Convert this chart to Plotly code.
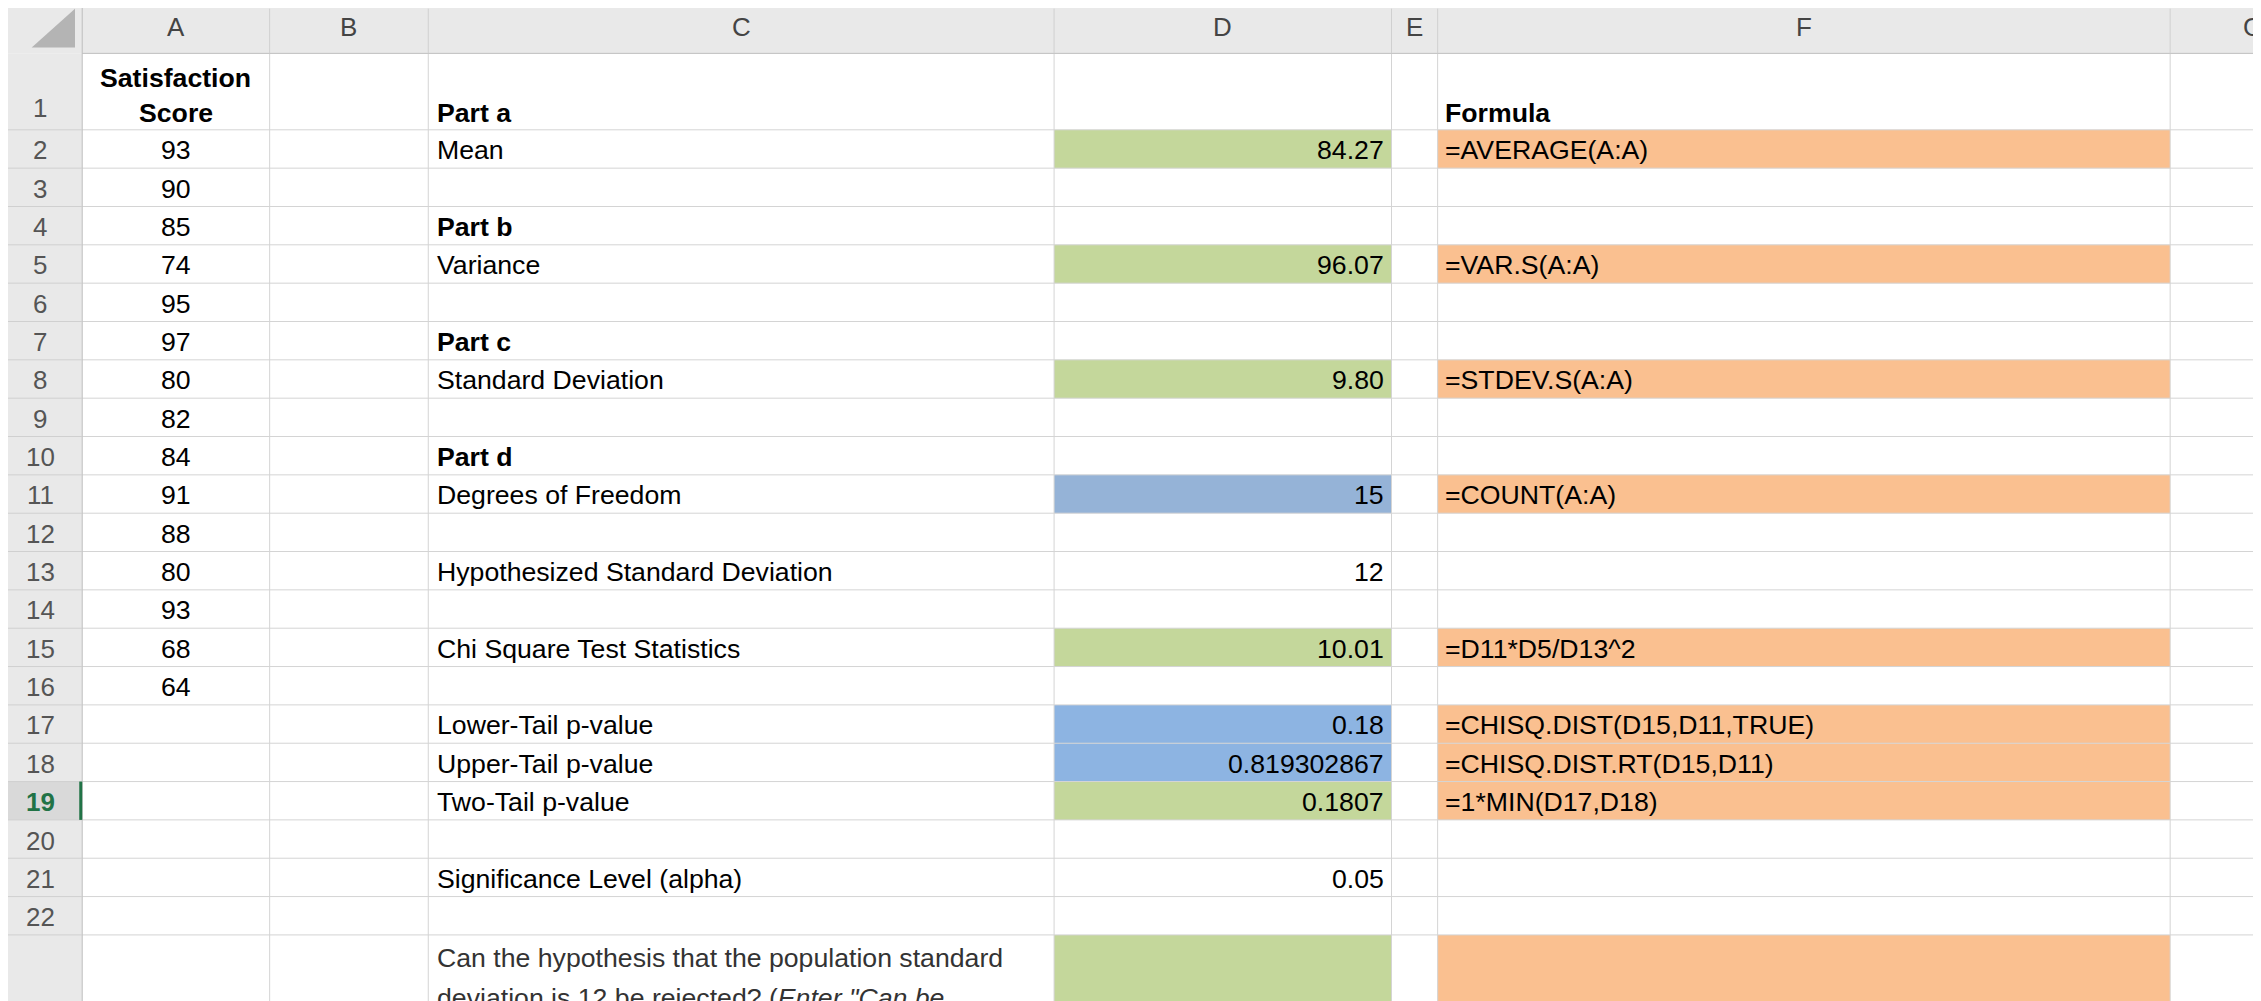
import plotly.graph_objects as go

W, H = 1568, 694
OFF = 8 / 1.442  # compensate the page's default body margin
scores = [93, 90, 85, 74, 95, 97, 80, 82, 84, 91, 88, 80, 93, 68, 64]
col_letters = ["A", "B", "C", "D", "E", "F", "G"]
col_edges = [57, 187, 297, 731, 965, 997, 1505, 1568]
c_rows = [1, 2, 4, 5, 7, 8, 10, 11, 13, 15, 17, 18, 19, 21]
c_labels = ["<b>Part a</b>", "Mean", "<b>Part b</b>", "Variance", "<b>Part c</b>", "Standard Deviation",
            "<b>Part d</b>", "Degrees of Freedom", "Hypothesized Standard Deviation",
            "Chi Square Test Statistics", "Lower-Tail p-value", "Upper-Tail p-value",
            "Two-Tail p-value", "Significance Level (alpha)"]
d_rows = [2, 5, 8, 11, 13, 15, 17, 18, 19, 21]
d_values = ["84.27", "96.07", "9.80", "15", "12", "10.01", "0.18", "0.819302867", "0.1807", "0.05"]
d_fill = ["#C4D79B", "#C4D79B", "#C4D79B", "#95B3D7", None, "#C4D79B", "#8DB4E2", "#8DB4E2", "#C4D79B", None]
f_rows = [1, 2, 5, 8, 11, 15, 17, 18, 19]
f_formulas = ["<b>Formula</b>", "=AVERAGE(A:A)", "=VAR.S(A:A)", "=STDEV.S(A:A)", "=COUNT(A:A)",
              "=D11*D5/D13^2", "=CHISQ.DIST(D15,D11,TRUE)", "=CHISQ.DIST.RT(D15,D11)", "=1*MIN(D17,D18)"]

RH = 26.58
def top(r):
    if r == 1: return 37
    return 90 + (r - 2) * RH
def bot(r):
    if r == 1: return 90
    if r == 23: return 760
    return top(r) + RH
def mid(r):
    return (top(r) + bot(r)) / 2 + 1

FONT = "Liberation Sans, Arial, sans-serif"
shapes, ann = [], []
def rect(x0, y0, x1, y1, fill, line=None):
    shapes.append(dict(type="rect", x0=x0, x1=x1, y0=y0, y1=y1, fillcolor=fill,
                       line=dict(width=0) if line is None else line, layer="below"))
def line(x0, y0, x1, y1, c="#D4D4D4", w=1):
    shapes.append(dict(type="line", x0=x0, x1=x1, y0=y0, y1=y1, line=dict(color=c, width=w), layer="below"))
def text(x, y, t, anchor="left", size=18.5, color="#000", ya="middle"):
    ann.append(dict(x=x, y=y, text=t, showarrow=False, xanchor=anchor, yanchor=ya,
                    font=dict(family=FONT, size=size * 1.442, color=color)))

for r, f in zip(d_rows, d_fill):
    if f: rect(col_edges[3], top(r), col_edges[4], bot(r), f)
for r in f_rows[1:]:
    rect(col_edges[5], top(r), col_edges[6], bot(r), "#FAC090")
rect(col_edges[3], top(23), col_edges[4], H + 20, "#C4D79B")
rect(col_edges[5], top(23), col_edges[6], H + 20, "#FAC090")

for x in col_edges[1:-1]:
    line(x, 37, x, H + 20)
for r in range(1, 23):
    line(57, bot(r), W + 20, bot(r))

rect(-10, -10, W + 20, 37, "#E9E9E9")
rect(-10, 37, 57, H + 20, "#E9E9E9")
rect(-10, top(19), 57, bot(19), "#D9D9D9")
line(57, 37, W + 20, 37, "#BDBDBD")
line(57, -10, 57, H + 20, "#BDBDBD")
for x in col_edges[1:-1]:
    line(x, 6, x, 37, "#D0D0D0")
for r in range(1, 23):
    line(-10, bot(r), 57, bot(r), "#D0D0D0")
shapes.append(dict(type="path", path="M 52 6 L 52 33 L 22 33 Z", fillcolor="#B4B4B4", line=dict(width=0)))
line(56, top(19), 56, bot(19), "#217346", 3)
for i, L in enumerate(col_letters):
    x1 = 1620 if L == "G" else col_edges[i + 1]
    text((col_edges[i] + x1) / 2, 19, L, "center", 18, "#444")
for r in range(1, 23):
    y = 75 if r == 1 else mid(r)
    if r == 19:
        text(28, y, "<b>19</b>", "center", 18, "#217346")
    else:
        text(28, y, str(r), "center", 18, "#555")

text(122, 54, "<b>Satisfaction</b>", "center")
text(122, 78, "<b>Score</b>", "center")
for i, s in enumerate(scores):
    text(122, mid(i + 2), str(s), "center")
for r, l in zip(c_rows, c_labels):
    text(302, 78 if r == 1 else mid(r), l)
for r, v in zip(d_rows, d_values):
    text(961, mid(r), v, "right")
for r, f in zip(f_rows, f_formulas):
    text(1001, 78 if r == 1 else mid(r), f)
text(302, 664, "Can the hypothesis that the population standard", color="#333")
text(302, 692, 'deviation is 12 be rejected? (<i>Enter "Can be</i>', color="#333")

fig = go.Figure()
fig.update_layout(width=2261, height=1001, margin=dict(l=0, r=0, t=0, b=0),
                  plot_bgcolor="white", paper_bgcolor="white", shapes=shapes, annotations=ann,
                  xaxis=dict(range=[OFF, W + OFF], visible=False, fixedrange=True),
                  yaxis=dict(range=[H + OFF, OFF], visible=False, fixedrange=True), showlegend=False)
fig.write_html("out.html")
